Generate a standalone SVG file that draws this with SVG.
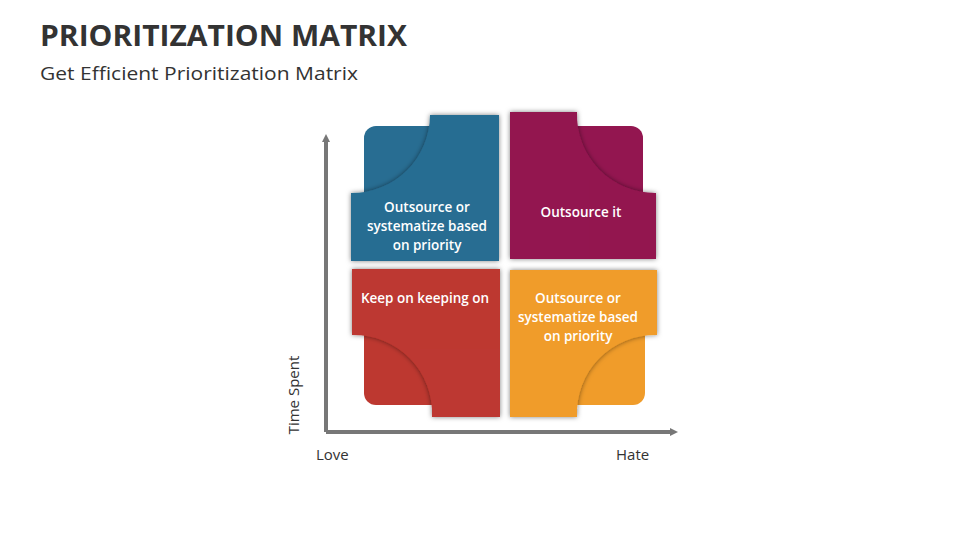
<svg xmlns="http://www.w3.org/2000/svg" width="960" height="540" viewBox="0 0 960 540">
<defs>
<filter id="sh" x="-20%" y="-20%" width="140%" height="140%"><feDropShadow dx="0" dy="0" stdDeviation="2.5" flood-color="#000" flood-opacity="0.5"/></filter>
<marker id="ar" markerWidth="8" markerHeight="8" refX="4" refY="4" orient="auto" markerUnits="userSpaceOnUse" viewBox="0 0 8 8"><path d="M0,0 L8,4 L0,8 Z" fill="#777"/></marker>
</defs>
<style>
text{font-family:"Open Sans","Liberation Sans",sans-serif}
.q{font-size:13.5px;font-weight:600;fill:#fff;text-anchor:middle}
.ax{font-size:15px;fill:#333}
</style>
<rect width="960" height="540" fill="#fff"/>
<text x="40" y="46" font-size="29" font-weight="700" fill="#333" textLength="367" lengthAdjust="spacingAndGlyphs">PRIORITIZATION MATRIX</text>
<text x="40" y="80" font-size="18" fill="#333" textLength="318" lengthAdjust="spacingAndGlyphs">Get Efficient Prioritization Matrix</text>
<g id="axes">
<line x1="326" y1="432" x2="326" y2="138" stroke="#777" stroke-width="4" marker-end="url(#ar)"/>
<line x1="326" y1="432" x2="674" y2="432" stroke="#777" stroke-width="4" marker-end="url(#ar)"/>
</g>
<g id="q1">
<rect x="364" y="126" width="135" height="135" rx="12" fill="#286D92"/>
<path d="M351,193 A78,78 0 0 0 430,115 L499,115 L499,261 L351,261 Z" fill="#286D92" filter="url(#sh)"/>
<rect x="420" y="180" width="79" height="81" fill="#286D92"/>
<text class="q" x="427" y="212">Outsource or</text>
<text class="q" x="427" y="231">systematize based</text>
<text class="q" x="427" y="250">on priority</text>
</g>
<g id="q2">
<rect x="510" y="126" width="133" height="133" rx="12" fill="#931650"/>
<path d="M656,193 A78,78 0 0 1 577,112 L510,112 L510,259 L656,259 Z" fill="#931650" filter="url(#sh)"/>
<rect x="510" y="180" width="79" height="79" fill="#931650"/>
<text class="q" x="581" y="217">Outsource it</text>
</g>
<g id="q3">
<rect x="364" y="269" width="136" height="136" rx="12" fill="#BD3830"/>
<path d="M352,335 A78,78 0 0 1 432,417 L500,417 L500,269 L352,269 Z" fill="#BD3830" filter="url(#sh)"/>
<rect x="420" y="269" width="80" height="80" fill="#BD3830"/>
<text class="q" x="425" y="303">Keep on keeping on</text>
</g>
<g id="q4">
<rect x="510" y="270" width="135" height="135" rx="12" fill="#F09C2A"/>
<path d="M657,335 A78,78 0 0 0 577,417 L510,417 L510,270 L657,270 Z" fill="#F09C2A" filter="url(#sh)"/>
<rect x="510" y="270" width="80" height="80" fill="#F09C2A"/>
<text class="q" x="578" y="303">Outsource or</text>
<text class="q" x="578" y="322">systematize based</text>
<text class="q" x="578" y="341">on priority</text>
</g>
<text class="ax" x="316" y="460">Love</text>
<text class="ax" x="616" y="460">Hate</text>
<text class="ax" transform="translate(299,395) rotate(-90)" text-anchor="middle">Time Spent</text>
</svg>
